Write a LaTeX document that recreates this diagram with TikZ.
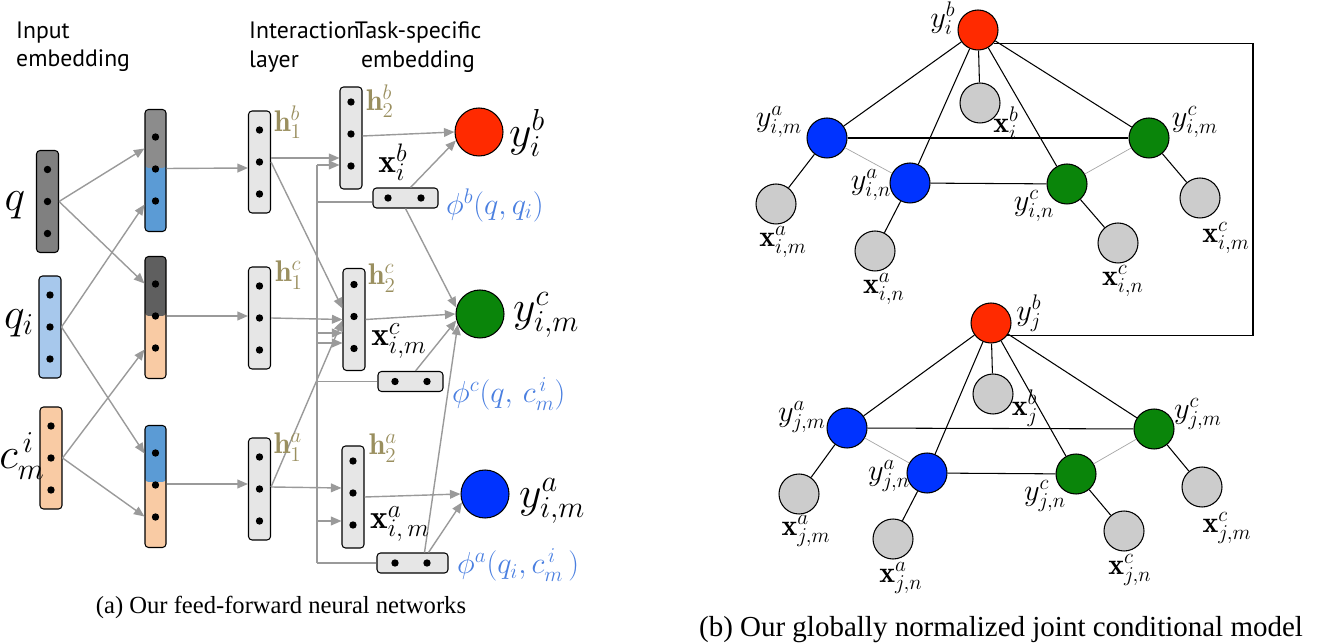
\documentclass[tikz,border=0pt]{standalone}
\usepackage{fontspec}
\newfontfamily\hdrfont{PT Sans}
\newfontfamily\capfont{Liberation Serif}
\usetikzlibrary{arrows.meta,calc}
\definecolor{qgray}{HTML}{808080}
\definecolor{cgray}{HTML}{8C8C8C}
\definecolor{cdark}{HTML}{5F5F5F}
\definecolor{lblue}{HTML}{A7C8EC}
\definecolor{mblue}{HTML}{5B9BD5}
\definecolor{peach}{HTML}{F9CBA4}
\definecolor{hgray}{HTML}{E6E6E6}
\definecolor{olive}{HTML}{9A8F5F}
\definecolor{phiblue}{HTML}{4A7FE0}
\definecolor{ored}{HTML}{FF2A00}
\definecolor{ogreen}{HTML}{0A850A}
\definecolor{oblue}{HTML}{0033FF}
\definecolor{ngray}{HTML}{CCCCCC}
\definecolor{agray}{HTML}{9A9A9A}
\begin{document}
\begin{tikzpicture}[x=0.02cm,y=-0.02cm,
  vec/.style={draw=black,line width=0.6pt,rounded corners=2pt,inner sep=0pt,minimum width=0.44cm,minimum height=2.04cm},
  cvec/.style={vec,minimum width=0.42cm,minimum height=2.44cm},
  hvec/.style={draw=black,line width=0.6pt,rounded corners=2pt,inner sep=0pt,minimum width=1.3cm,minimum height=0.4cm,fill=hgray},
  split/.style 2 args={path picture={\fill[#1] (path picture bounding box.north west) rectangle ($(path picture bounding box.east)+(0,#2)$);}},
  dot/.style={fill=black},
  arr/.style={draw=agray,line width=0.8pt,-{Triangle[length=6pt,width=5pt]}},
  ln/.style={draw=agray,line width=0.8pt},
  outc/.style={circle,draw=black,line width=0.6pt,minimum size=0.96cm,inner sep=0pt},
  gc/.style={circle,draw=black,line width=0.6pt,minimum size=0.8cm,inner sep=0pt},
  ed/.style={draw=black,line width=0.6pt},
  thin/.style={draw=gray!70,line width=0.4pt},
  big/.style={font=\fontsize{23}{25}\selectfont},
  hl/.style={font=\fontsize{17}{19}\selectfont,text=olive},
  xl/.style={font=\fontsize{19}{21}\selectfont},
  phl/.style={font=\fontsize{17}{19}\selectfont,text=phiblue,anchor=west},
  rl/.style={font=\fontsize{17}{19}\selectfont},
  hd/.style={font=\hdrfont\fontsize{13.5}{15}\selectfont,align=left,anchor=north west}
]
\useasboundingbox (0,0) rectangle (1317,644);
% headers
\node[hd] (h1) at (10,16) {Input\\[1pt]embedding};
\node[hd] (h2) at (243,16) {Interaction\\[1pt]layer};
\node[hd,align=center,anchor=north] (h3) at (418,16) {Task-specific\\[1pt]embedding};
% input vectors
\node[vec,fill=qgray] (q) at (47.5,201.5) {};
\node[vec,fill=lblue] (qi) at (50,327) {};
\node[vec,fill=peach] (cm) at (51,458) {};
% concatenations
\node[cvec,fill=mblue,split={cgray}{-2.5}] (c1) at (155.5,170.5) {};
\node[cvec,fill=peach,split={cdark}{-1.5}] (c2) at (155.5,317.5) {};
\node[cvec,fill=peach,split={mblue}{-4.5}] (c3) at (155.5,486.5) {};
% interaction
\node[vec,fill=hgray] (h1b) at (259.5,162) {};
\node[vec,fill=hgray] (h1c) at (259.5,318) {};
\node[vec,fill=hgray] (h1a) at (259.5,489) {};
% task-specific
\node[vec,fill=hgray] (h2b) at (351,138) {};
\node[vec,fill=hgray] (h2c) at (354,319.5) {};
\node[vec,fill=hgray] (h2a) at (353,497) {};
\node[hvec] (phib) at (405.5,198) {};
\node[hvec] (phic) at (410.5,381.5) {};
\node[hvec,minimum width=1.42cm] (phia) at (412.5,563) {};
% dots
\foreach \n/\o in {q/0,qi/0,cm/0,c1/-1.5,c2/-1.5,c3/-1.5,h1b/0,h1c/0,h1a/0,h2b/-4,h2c/-3,h2a/-4}{
  \foreach \d in {-32,0,32}{\fill[dot] ($(\n)+(0,\d+\o)$) circle[radius=2.1pt];}}
\foreach \n/\a/\b in {phib/-17.5/15.5,phic/-15.5/16.5,phia/-17.5/14.5}{
  \fill[dot] ($(\n)+(\a,0)$) circle[radius=2.1pt]; \fill[dot] ($(\n)+(\b,0)$) circle[radius=2.1pt];}
% outputs
\node[outc,fill=ored] (yb) at (479,132) {};
\node[outc,fill=ogreen] (yc) at (480,314) {};
\node[outc,fill=oblue] (ya) at (485,494) {};
% arrows left
\draw[arr] (q.east) -- ($(c1.west)+(0,-22)$);
\draw[arr] (q.east) -- ($(c2.west)+(0,-34)$);
\draw[arr] (qi.east) -- ($(c1.west)+(0,34)$);
\draw[arr] (qi.east) -- ($(c3.west)+(0,-33)$);
\draw[arr] (cm.east) -- ($(c2.west)+(0,32)$);
\draw[arr] (cm.east) -- ($(c3.west)+(0,30)$);
\draw[arr] ($(c1.east)+(0,-2)$) -- ($(h1b.west)+(0,6)$);
\draw[arr] ($(c2.east)+(0,-1.5)$) -- ($(h1c.west)+(0,-2)$);
\draw[arr] ($(c3.east)+(0,-2.5)$) -- ($(h1a.west)+(0,-5)$);
\draw[arr] ($(h1b.east)+(0,-4)$) -- ($(h2b.west)+(0,20)$);
\draw[arr] (h1b.east) -- ($(h2c.west)+(0,-11)$);
\draw[arr] (h1c.east) -- (h2c.west);
\draw[arr] ($(h1a.east)+(0,-2)$) -- ($(h2c.west)+(0,1)$);
\draw[arr] ($(h1a.east)+(0,-2)$) -- ($(h2a.west)+(0,-9)$);
\coordinate (vt) at (317,165);
\coordinate (vb) at (317,563);
\coordinate (v1) at (317,333);
\coordinate (v2) at (317,343);
\coordinate (v3) at (317,521);
\draw[ln] (vt) -- (vb);
\draw[arr] (vt) -- (vt -| h2b.west);
\draw[arr] (v1) -- (v1 -| h2c.west);
\draw[arr] (v2) -- (v2 -| h2c.west);
\draw[arr] (v3) -- (v3 -| h2a.west);
\draw[ln] ($(phib.west)+(0,4)$) -- ($(phib.west -| vt)+(0,4)$);
\draw[ln] (phic.west) -- (phic.west -| vt);
\draw[ln] (phia.west) -- (vb);
\draw[arr] ($(h2b.east)+(0,-2)$) -- (yb.west);
\draw[arr] ($(phib.north)+(5,0)$) -- (yb.200);
\draw[arr] ($(phib.south)+(0,0)$) -- (yc.165);
\draw[arr] (h2c.east) -- (yc.west);
\draw[arr] ($(phic.north)+(5,0)$) -- (yc.195);
\draw[arr] ($(phia.north)+(12,0)$) -- (yc.205);
\draw[arr] (h2a.east) -- (ya.west);
\draw[arr] ($(phia.north)+(16,0)$) -- (ya.200);
% labels left
\node[big] (lq) at (15,205) {$q$};
\node[big] (lqi) at (19,323) {$q_i$};
\node[big] (lcm) at (22,456) {$c^{\,i}_{m}$};
\node[hl] (lh1b) at (288,122) {$\mathbf{h}^{b}_{1}$};
\node[hl] (lh2b) at (380,101) {$\mathbf{h}^{b}_{2}$};
\node[hl] (lh1c) at (289,275) {$\mathbf{h}^{c}_{1}$};
\node[hl] (lh2c) at (382,278) {$\mathbf{h}^{c}_{2}$};
\node[hl] (lh1a) at (288,447) {$\mathbf{h}^{a}_{1}$};
\node[hl] (lh2a) at (383,448) {$\mathbf{h}^{a}_{2}$};
\node[xl] (lxb) at (393,162) {$\mathbf{x}^{b}_{i}$};
\node[xl] (lxc) at (399,341) {$\mathbf{x}^{c}_{i,m}$};
\node[xl] (lxa) at (400,524) {$\mathbf{x}^{a}_{i,\,m}$};
\node[phl] (lpb) at (440,205) {$\phi^{b}(q,q_i)$};
\node[phl] (lpc) at (446,394) {$\phi^{c}(q,\,c^{\,i}_{m})$};
\node[phl] (lpa) at (451,565) {$\phi^{a}(q_i,c^{\,i}_{m}\,)$};
\node[big,anchor=west] (lyb) at (503,133) {$y^{b}_{i}$};
\node[big,anchor=west] (lyc) at (507,315) {$y^{c}_{i,m}$};
\node[big,anchor=west] (lya) at (513,501) {$y^{a}_{i,m}$};
% captions
\node[font=\capfont\fontsize{14}{16}\selectfont] (capa) at (281,607) {(a) Our feed-forward neural networks};
\node[font=\capfont\fontsize{16.5}{18}\selectfont] (capb) at (1001,630) {(b) Our globally normalized joint conditional model};
% right panel top
\node[gc,fill=ored] (yib) at (978,30) {};
\node[gc,fill=ngray] (xib) at (980,103) {};
\node[gc,fill=oblue] (yima) at (827,138) {};
\node[gc,fill=oblue] (yina) at (910,183) {};
\node[gc,fill=ogreen] (yinc) at (1067,184) {};
\node[gc,fill=ogreen] (yimc) at (1149,138) {};
\node[gc,fill=ngray] (xima) at (776,204) {};
\node[gc,fill=ngray] (xina) at (875,251) {};
\node[gc,fill=ngray] (xinc) at (1118,243) {};
\node[gc,fill=ngray] (ximc) at (1200,198) {};
% right panel bottom
\node[gc,fill=ored] (yjb) at (991,323) {};
\node[gc,fill=ngray] (xjb) at (993,394) {};
\node[gc,fill=oblue] (yjma) at (847,428) {};
\node[gc,fill=oblue] (yjna) at (927,473) {};
\node[gc,fill=ogreen] (yjnc) at (1076,474) {};
\node[gc,fill=ogreen] (yjmc) at (1154,429) {};
\node[gc,fill=ngray] (xjma) at (799,494) {};
\node[gc,fill=ngray] (xjna) at (893,539) {};
\node[gc,fill=ngray] (xjnc) at (1124,531) {};
\node[gc,fill=ngray] (xjmc) at (1202,487) {};
\foreach \t in {i,j}{
  \draw[ed] (y\t b) -- (y\t ma);
  \draw[ed] (y\t b) -- (y\t na);
  \draw[ed] (y\t b) -- (x\t b);
  \draw[ed] (y\t b) -- (y\t nc);
  \draw[ed] (y\t b) -- (y\t mc);
  \draw[ed] (y\t ma) -- (y\t mc);
  \draw[ed] (y\t na) -- (y\t nc);
  \draw[thin] (y\t ma) -- (y\t na);
  \draw[thin] (y\t nc) -- (y\t mc);
  \draw[ed] (y\t ma) -- (x\t ma);
  \draw[ed] (y\t na) -- (x\t na);
  \draw[ed] (y\t nc) -- (x\t nc);
  \draw[ed] (y\t mc) -- (x\t mc);
}
\coordinate (cr) at (1253,43);
\draw[ed] (yib.-40) -- (yib.-40 -| cr) -- (yjb.-37 -| cr) -- (yjb.-37);
% right labels
\node[rl] (l1) at (943,18) {$y^{b}_{i}$};
\node[rl] (l2) at (1006,123) {$\mathbf{x}^{b}_{i}$};
\node[rl] (l3) at (779,122) {$y^{a}_{i,m}$};
\node[rl] (l4) at (1195,122) {$y^{c}_{i,m}$};
\node[rl] (l5) at (871,185) {$y^{a}_{i,n}$};
\node[rl] (l6) at (1034,206) {$y^{c}_{i,n}$};
\node[rl] (l7) at (783,242) {$\mathbf{x}^{a}_{i,m}$};
\node[rl] (l8) at (884,289) {$\mathbf{x}^{a}_{i,n}$};
\node[rl] (l9) at (1123,281) {$\mathbf{x}^{c}_{i,n}$};
\node[rl] (l10) at (1226,238) {$\mathbf{x}^{c}_{i,m}$};
\node[rl] (m1) at (1029,313) {$y^{b}_{j}$};
\node[rl] (m2) at (1025,408) {$\mathbf{x}^{b}_{j}$};
\node[rl] (m3) at (802,417) {$y^{a}_{j,m}$};
\node[rl] (m4) at (1198,414) {$y^{c}_{j,m}$};
\node[rl] (m5) at (889,476) {$y^{a}_{j,n}$};
\node[rl] (m6) at (1045,496) {$y^{c}_{j,n}$};
\node[rl] (m7) at (806,531) {$\mathbf{x}^{a}_{j,m}$};
\node[rl] (m8) at (901,578) {$\mathbf{x}^{a}_{j,n}$};
\node[rl] (m9) at (1130,570) {$\mathbf{x}^{c}_{j,n}$};
\node[rl] (m10) at (1227,528) {$\mathbf{x}^{c}_{j,m}$};
\end{tikzpicture}
\end{document}
